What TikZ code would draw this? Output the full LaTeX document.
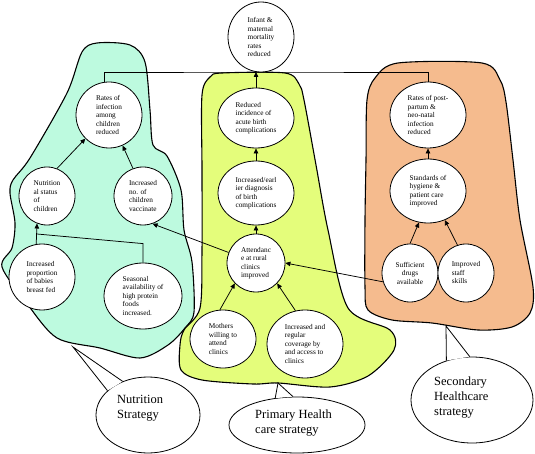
\documentclass[tikz,border=0pt]{standalone}
\usepackage{fontspec}
\setmainfont{Liberation Serif}
\usetikzlibrary{shapes.geometric,arrows.meta}
\definecolor{nutrfill}{HTML}{BDFADF}
\definecolor{primfill}{HTML}{E4FD7B}
\definecolor{secfill}{HTML}{F5BB8E}
\tikzset{
  region/.style={draw=black, line width=1.1pt},
  goal/.style={ellipse, draw=black, fill=white, line width=0.8pt, inner sep=0pt,
    font=\fontsize{7.3}{8.5}\selectfont, align=left},
  link/.style={draw=black, line width=0.75pt},
  arr/.style={link, -{Triangle[length=5pt,width=4.5pt]}},
  bubble/.style={ellipse, draw=black, fill=white, line width=0.8pt, inner sep=0pt},
  bubtext/.style={font=\fontsize{12.5}{15}\selectfont, align=left, inner sep=0pt, anchor=west},
}
\begin{document}
\begin{tikzpicture}[x=1pt,y=-1pt]
  \useasboundingbox (0,0) rectangle (535,454);
  % strategy areas
  \filldraw[region, fill=nutrfill] plot[smooth cycle, tension=0.5] coordinates {
    (97,43) (130,45) (145,62) (150,110) (153,145) (167,156) (181,190) (184,230)
    (192,262) (194,312) (185,328) (168,345) (140,358) (100,348) (57,338)
    (28,305) (2,267) (12,248) (15,223) (10,193) (13,180) (30,158) (67,93) (82,52)};
  \filldraw[region, fill=primfill] plot[smooth cycle, tension=0.5] coordinates {
    (202,95) (210,77) (222,73) (285,73) (299,84) (304,100) (316,165) (328,230)
    (348,308) (390,330) (394,350) (368,376) (330,387) (278,383) (253,384)
    (202,380) (181,370) (180,345) (184,330) (200,308) (202,250) (202,170)};
  \filldraw[region, fill=secfill] plot[smooth cycle, tension=0.5] coordinates {
    (375,78) (398,63) (482,63) (500,80) (506,102) (513,160) (520,220) (533,287)
    (530,313) (512,327) (478,330) (432,323) (392,320) (368,310) (365,287)
    (365,220) (366,160) (367,100)};

  % outcomes
  \node[goal, minimum width=66pt, minimum height=70pt] (infant) at (261,37)
    {Infant \&\\maternal\\mortality\\rates\\reduced};
  \node[goal, minimum width=66pt, minimum height=66pt] (ratesinf) at (109,115)
    {Rates of\\infection\\among\\children\\reduced};
  \node[goal, minimum width=56pt, minimum height=58pt] (nutr) at (47,196)
    {Nutrition\\al status\\of\\children};
  \node[goal, minimum width=58pt, minimum height=58pt] (vacc) at (143,196)
    {Increased\\no. of\\children\\vaccinate};
  \node[goal, minimum width=66pt, minimum height=66pt] (breastfed) at (42,277)
    {Increased\\proportion\\of babies\\breast fed};
  \node[goal, minimum width=78pt, minimum height=66pt] (seasonal) at (143,296)
    {Seasonal\\availability of\\high protein\\foods\\increased.};
  \node[goal, minimum width=76pt, minimum height=60pt] (reduced) at (256,118)
    {Reduced\\incidence of\\acute birth\\complications};
  \node[goal, minimum width=76pt, minimum height=64pt] (diagnosis) at (256,193)
    {Increased/earl\\ier diagnosis\\of birth\\complications};
  \node[goal, minimum width=58pt, minimum height=58pt] (attend) at (256,263)
    {Attendanc\\e at rural\\clinics\\improved};
  \node[goal, minimum width=66pt, minimum height=58pt] (mothers) at (223,339)
    {Mothers\\willing to\\attend\\clinics};
  \node[goal, minimum width=76pt, minimum height=68pt] (coverage) at (305,344)
    {Increased and\\regular\\coverage by\\and access to\\clinics};
  \node[goal, minimum width=76pt, minimum height=66pt] (ratespost) at (428,115)
    {Rates of post-\\partum \&\\neo-natal\\infection\\reduced};
  \node[goal, minimum width=76pt, minimum height=64pt] (standards) at (428,191)
    {Standards of\\hygiene \&\\patient care\\improved};
  \node[goal, align=center, minimum width=56pt, minimum height=58pt] (drugs) at (410,273)
    {Sufficient\\drugs\\available};
  \node[goal, minimum width=56pt, minimum height=58pt] (staff) at (466,273)
    {Improved\\staff\\skills};

  % links
  \coordinate (hub) at (261,72);
  \coordinate (nutrjoin) at (37,234);
  \draw[link] (ratesinf.98) |- (hub) -| (ratespost.north);
  \draw[arr] (reduced.north) -- (reduced.north |- hub);
  \draw[arr] (diagnosis) -- (reduced);
  \draw[arr] (attend) -- (diagnosis);
  \draw[arr] (mothers.96) -- (attend.224);
  \draw[arr] (coverage.106) -- (attend.316);
  \draw[arr] (drugs.198) -- (attend.east);
  \draw[arr] (attend.159) -- (vacc.289);
  \draw[arr] (nutr.70) -- (ratesinf.225);
  \draw[arr] (vacc.110) -- (ratesinf.294);
  \draw[arr] (breastfed.100) -- (nutr.250);
  \draw[link] (seasonal.north) -- ++(0,-19) -- (nutrjoin);
  \draw[arr] (standards) -- (ratespost);
  \draw[arr] (drugs.north) -- (standards.254);
  \draw[arr] (staff.107) -- (standards.300);

  % call-outs
  \node[bubble, minimum width=104pt, minimum height=76pt] (nutbub) at (148,415) {};
  \coordinate (nutptr) at (73,347);
  \fill[white] (nutbub.149) -- (nutptr) -- (nutbub.127) -- cycle;
  \draw[line width=0.8pt] (nutbub.149) -- (nutptr) -- (nutbub.127);
  \node[bubtext] (nuttext) at (117,408) {Nutrition\\Strategy};

  \node[bubble, minimum width=136pt, minimum height=56pt] (primbub) at (297,425) {};
  \coordinate (primptr) at (278,383);
  \fill[white] (primbub.129) -- (primptr) -- (primbub.98) -- cycle;
  \draw[line width=0.8pt] (primbub.129) -- (primptr) -- (primbub.98);
  \node[bubtext] (primtext) at (255,423) {Primary Health\\care strategy};

  \node[bubble, minimum width=122pt, minimum height=86pt] (secbub) at (472,400) {};
  \coordinate (secptr) at (446,326);
  \fill[white] (secbub.123) -- (secptr) -- (secbub.93) -- cycle;
  \draw[line width=0.8pt] (secbub.123) -- (secptr) -- (secbub.93);
  \node[bubtext] (sectext) at (434,398) {Secondary\\Healthcare\\strategy};
\end{tikzpicture}
\end{document}
